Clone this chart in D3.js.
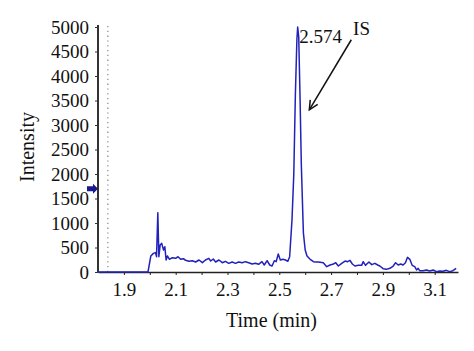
<!DOCTYPE html>
<html>
<head>
<meta charset="utf-8">
<script src="https://cdn.jsdelivr.net/npm/d3@7"></script>
<style>
  body { margin: 0; background: #fff; }
  svg text { font-family: "Liberation Serif", "DejaVu Serif", serif; }
</style>
</head>
<body>
<div id="chart"></div>
<script>
// Chromatogram trace (time in min, intensity)
const times = [1.80, 1.993, 2.004, 2.014, 2.022, 2.026, 2.031, 2.035, 2.040, 2.046, 2.053, 2.058, 2.063, 2.068,
    2.076, 2.087, 2.100, 2.109, 2.119, 2.130, 2.138, 2.151, 2.164, 2.177, 2.190, 2.203, 2.215, 2.228, 2.235,
    2.245, 2.254, 2.267, 2.280, 2.292, 2.305, 2.318, 2.331, 2.343, 2.357, 2.369, 2.382, 2.395, 2.408, 2.420,
    2.433, 2.442, 2.453, 2.463, 2.472, 2.481, 2.488, 2.496, 2.504, 2.514, 2.524, 2.533, 2.540, 2.549, 2.556,
    2.562, 2.568, 2.571, 2.575, 2.580, 2.585, 2.589, 2.593, 2.600, 2.607, 2.619, 2.632, 2.641, 2.651, 2.670,
    2.683, 2.696, 2.709, 2.718, 2.728, 2.741, 2.754, 2.764, 2.773, 2.782, 2.792, 2.805, 2.818, 2.824, 2.833,
    2.846, 2.857, 2.869, 2.880, 2.888, 2.901, 2.914, 2.927, 2.940, 2.949, 2.959, 2.969, 2.978, 2.987, 2.995,
    3.004, 3.013, 3.023, 3.030, 3.036, 3.042, 3.055, 3.068, 3.081, 3.094, 3.107, 3.119, 3.132, 3.145, 3.158,
    3.170, 3.183];
const intensity = [0, 0, 327, 380, 395, 313, 1210, 313, 551, 585, 449, 517, 245, 327,
    259, 292, 279, 313, 259, 272, 238, 218, 231, 204, 245, 190, 245, 279, 224,
    265, 204, 245, 190, 218, 177, 204, 177, 204, 190, 211, 190, 163, 177, 157,
    211, 143, 231, 143, 122, 231, 211, 367, 245, 259, 245, 218, 313, 1061, 2000,
    3600, 4750, 5000, 4800, 3600, 2200, 1500, 800, 449, 327, 259, 211, 204, 204, 190,
    109, 143, 163, 190, 122, 177, 224, 211, 238, 163, 122, 136, 136, 211, 136,
    204, 150, 177, 143, 122, 68, 54, 75, 122, 190, 143, 163, 143, 190, 299,
    259, 136, 109, 41, 75, 27, 27, 41, 20, 41, 7, 20, 14, 34, 7,
    27, 75];

const xTickValues = [1.9, 2.1, 2.3, 2.5, 2.7, 2.9, 3.1];
const yTickValues = [0, 500, 1000, 1500, 2000, 2500, 3000, 3500, 4000, 4500, 5000];
const peakLabel = "2.574";
const peakName = "IS";

const W = 474, H = 351;
const margin = { top: 27, right: 16, bottom: 79, left: 98 };
const width = W - margin.left - margin.right,
    height = H - margin.top - margin.bottom;

const svg = d3.select("#chart")
    .append("svg")
    .attr("width", W)
    .attr("height", H)
    .append("g")
    .attr("transform", `translate(${margin.left},${margin.top})`);

const x = d3.scaleLinear().domain([1.8, 3.19]).range([0, width]);
const y = d3.scaleLinear().domain([0, 5000]).range([height, 0]);

// dotted vertical line near the start
svg.append("line")
    .attr("x1", x(1.838)).attr("x2", x(1.838))
    .attr("y1", -1).attr("y2", height)
    .attr("stroke", "#888")
    .attr("stroke-width", 1.2)
    .attr("stroke-dasharray", "1.3,3.5");

// x axis: minor ticks every 0.1, labels every 0.2
const xMinor = d3.range(19, 32).map(d => d / 10);
svg.append("g")
    .attr("transform", `translate(0,${height})`)
    .call(d3.axisBottom(x).tickValues(xMinor).tickSize(3).tickFormat(""))
    .call(g => g.select(".domain").remove())
    .selectAll("line").attr("stroke", "#222");

svg.append("g")
    .attr("transform", `translate(0,${height})`)
    .attr("font-family", "Liberation Serif")
    .attr("font-size", 19)
    .call(d3.axisBottom(x).tickValues(xTickValues).tickSize(0).tickPadding(11).tickFormat(d3.format(".1f")))
    .attr("font-family", "Liberation Serif")
    .attr("font-size", 19)
    .call(g => g.select(".domain").attr("stroke", "#222").attr("stroke-width", 1.5))
    .selectAll("text")
    .attr("fill", "#111");

// y axis
svg.append("g")
    .call(d3.axisLeft(y).tickValues(yTickValues).tickSize(3).tickPadding(6).tickSizeOuter(0).tickFormat(d3.format("d")))
    .attr("font-family", "Liberation Serif")
    .attr("font-size", 19)
    .call(g => g.select(".domain").attr("stroke", "#333").attr("stroke-width", 2).attr("d", `M0,${height}V-2`))
    .call(g => g.selectAll("line").attr("stroke", "#333"))
    .selectAll("text")
    .attr("fill", "#111");

// trace
const data = times.map((t, i) => [t, intensity[i]]);
svg.append("path")
    .datum(data)
    .attr("fill", "none")
    .attr("stroke", "#2222bb")
    .attr("stroke-width", 1.5)
    .attr("stroke-linejoin", "round")
    .attr("d", d3.line().x(d => x(d[0])).y(d => y(d[1])));

// small marker arrow on the y axis
const my = y(1700);
svg.append("path")
    .attr("d", `M-11,${my - 2.5}H-5V${my - 5}L0,${my}L-5,${my + 5}V${my + 2.5}H-11Z`)
    .attr("fill", "#1a1a8c");

// peak annotation
svg.append("text")
    .attr("x", x(2.577)).attr("y", 16)
    .attr("font-size", 19)
    .attr("fill", "#111")
    .text(peakLabel);

svg.append("text")
    .attr("x", x(2.785)).attr("y", 8)
    .attr("font-size", 19)
    .attr("fill", "#111")
    .text(peakName);

const ax1 = x(2.778), ay1 = y(4740), ax2 = x(2.616), ay2 = y(3310);
const ang = Math.atan2(ay2 - ay1, ax2 - ax1);
const hl = 10, ha = 0.45;
svg.append("line")
    .attr("x1", ax1).attr("y1", ay1).attr("x2", ax2).attr("y2", ay2)
    .attr("stroke", "#111").attr("stroke-width", 1.5);
svg.append("path")
    .attr("d", `M${ax2 - hl * Math.cos(ang - ha)},${ay2 - hl * Math.sin(ang - ha)}L${ax2},${ay2}L${ax2 - hl * Math.cos(ang + ha)},${ay2 - hl * Math.sin(ang + ha)}`)
    .attr("fill", "none").attr("stroke", "#111").attr("stroke-width", 1.5);

// axis labels
svg.append("text")
    .attr("x", x(2.47)).attr("y", height + 55)
    .attr("text-anchor", "middle")
    .attr("font-size", 20)
    .attr("fill", "#111")
    .text("Time (min)");

svg.append("text")
    .attr("transform", `translate(${33.5 - margin.left},${147 - margin.top}) rotate(-90)`)
    .attr("text-anchor", "middle")
    .attr("font-size", 20)
    .attr("fill", "#111")
    .text("Intensity");
</script>
</body>
</html>
